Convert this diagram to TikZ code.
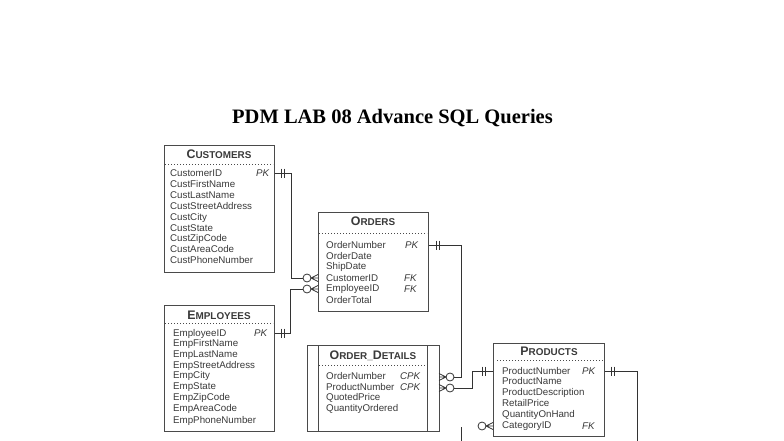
\documentclass[tikz,border=0pt]{standalone}
\usepackage{fontspec}
\setmainfont{Liberation Serif}
\setsansfont{Liberation Sans}
\definecolor{ink}{HTML}{3A3A3A}
\definecolor{boxc}{HTML}{4A4A4A}
\definecolor{wire}{HTML}{333333}
\newcommand{\hd}[2]{{\fontsize{12.4}{12}\selectfont #1}{\fontsize{9.9}{12}\selectfont #2}}
\newcommand{\crowL}[2]{% feet point left at x=#1
  \draw[wire line] (#1,#2) -- (#1+7,#2) (#1,#2-3.5) -- (#1+7,#2) -- (#1,#2+3.5);
  \draw[wire line] (#1+11,#2) circle (4);}
\newcommand{\crowR}[2]{% feet point right at x=#1
  \draw[wire line] (#1,#2) -- (#1-7,#2) (#1,#2-3.5) -- (#1-7,#2) -- (#1,#2+3.5);
  \draw[wire line] (#1-11,#2) circle (4);}
\newcommand{\bars}[2]{\draw[wire line] (#1-1.7,#2-4.5) -- (#1-1.7,#2+4.5) (#1+1.7,#2-4.5) -- (#1+1.7,#2+4.5);}
\tikzset{
  x=1pt,y=-1pt,
  entity/.style={draw=boxc,line width=0.9pt,fill=white,inner sep=0pt,anchor=north west},
  heading/.style={font=\sffamily\bfseries,text=ink,inner sep=0pt,anchor=center},
  attr/.style={font=\sffamily\fontsize{9.75}{11}\selectfont,text=ink,inner sep=0pt,anchor=west},
  keyl/.style={font=\sffamily\itshape\fontsize{9.75}{11}\selectfont,text=ink,inner sep=0pt,anchor=west},
  sep/.style={draw=boxc,line width=0.9pt,dash pattern=on 1.1pt off 1.9pt},
  wire line/.style={draw=wire,line width=0.8pt},
}
\begin{document}
\begin{tikzpicture}
\useasboundingbox (0,0) rectangle (784,441);
\node[font=\bfseries\fontsize{20.5}{24}\selectfont,text=black,inner sep=0pt] (title) at (392.5,118.5) {PDM LAB 08 Advance SQL Queries};

% CUSTOMERS
\node[entity,minimum width=110pt,minimum height=126.5pt] (cust) at (164,145) {};
\node[heading] (custh) at (219,154) {\hd{C}{USTOMERS}};
\draw[sep] (165,164) -- (273,164);
\foreach \n/\t/\y in {c1/CustomerID/173.5,c2/CustFirstName/184.5,c3/CustLastName/195.5,c4/CustStreetAddress/206.5,c5/CustCity/217.5,c6/CustState/228,c7/CustZipCode/238.5,c8/CustAreaCode/249.5,c9/CustPhoneNumber/260.5}
  \node[attr] (\n) at (170,\y) {\t};
\node[keyl] (cpk) at (256,173) {PK};

% ORDERS
\node[entity,minimum width=110pt,minimum height=99pt] (ord) at (318,212) {};
\node[heading] (ordh) at (373,221) {\hd{O}{RDERS}};
\draw[sep] (319,233) -- (427,233);
\foreach \n/\t/\y in {o1/OrderNumber/245,o2/OrderDate/256,o3/ShipDate/267,o4/CustomerID/278,o5/EmployeeID/289,o6/OrderTotal/300}
  \node[attr] (\n) at (326,\y) {\t};
\node[keyl] (opk) at (405,245) {PK};
\node[keyl] (ofk1) at (404,278) {FK};
\node[keyl] (ofk2) at (404,289) {FK};

% EMPLOYEES
\node[entity,minimum width=110pt,minimum height=126pt] (emp) at (164,305) {};
\node[heading] (emph) at (219,315) {\hd{E}{MPLOYEES}};
\draw[sep] (165,323) -- (273,323);
\foreach \n/\t/\y in {e1/EmployeeID/333.5,e2/EmpFirstName/344,e3/EmpLastName/355,e4/EmpStreetAddress/365.5,e5/EmpCity/376,e6/EmpState/387,e7/EmpZipCode/398,e8/EmpAreaCode/409,e9/EmpPhoneNumber/420.5}
  \node[attr] (\n) at (173,\y) {\t};
\node[keyl] (epk) at (254,333) {PK};

% ORDER_DETAILS
\node[entity,minimum width=132pt,minimum height=86pt] (od) at (307,345) {};
\draw[draw=boxc,line width=0.9pt] (318,345) -- (318,431) (427,345) -- (427,431);
\node[heading] (odh) at (373,356) {\hd{O}{RDER\_}\hd{D}{ETAILS}};
\draw[sep] (319,365) -- (427,365);
\foreach \n/\t/\y in {d1/OrderNumber/376,d2/ProductNumber/387,d3/QuotedPrice/398,d4/QuantityOrdered/409}
  \node[attr] (\n) at (326,\y) {\t};
\node[keyl] (dk1) at (400,376) {CPK};
\node[keyl] (dk2) at (400,387) {CPK};

% PRODUCTS
\node[entity,minimum width=111pt,minimum height=93pt] (prod) at (493,343) {};
\node[heading] (prodh) at (549,351) {\hd{P}{RODUCTS}};
\draw[sep] (497,360) -- (603,360);
\foreach \n/\t/\y in {p1/ProductNumber/371,p2/ProductName/381.5,p3/ProductDescription/392.5,p4/RetailPrice/403.5,p5/QuantityOnHand/414.5,p6/CategoryID/426}
  \node[attr] (\n) at (502,\y) {\t};
\node[keyl] (ppk) at (582,371) {PK};
\node[keyl] (pfk) at (582,426) {FK};

% connectors
\coordinate (cfoot) at (303,278);
\coordinate (efoot) at (303,289);
\coordinate (d1foot) at (454,377);
\coordinate (d2foot) at (454,388);
\coordinate (pend) at (637,441);
\coordinate (catend) at (461,441);
\coordinate (cattop) at (461,427);

\draw[wire line] (cust.east |- cpk) -- (291,173) -- (291,278) -- (cfoot);
\draw[wire line] (emp.east |- epk) -- (290,333) -- (290,289) -- (efoot);
\draw[wire line] (ord.east |- opk) -- (461,245) -- (461,377) -- (d1foot);
\draw[wire line] (d2foot) -- (472,388) -- (472,371) -- (prod.west |- p1);
\draw[wire line] (prod.east |- p1) -- (637,371) -- (pend);
\draw[wire line] (cattop) -- (catend);

\bars{283}{173}
\bars{283}{333}
\bars{438}{245}
\bars{484}{371}
\bars{613}{371}
\crowR{318}{278}
\crowR{318}{289}
\crowL{439}{377}
\crowL{439}{388}
\crowR{493}{426}
\end{tikzpicture}
\end{document}
